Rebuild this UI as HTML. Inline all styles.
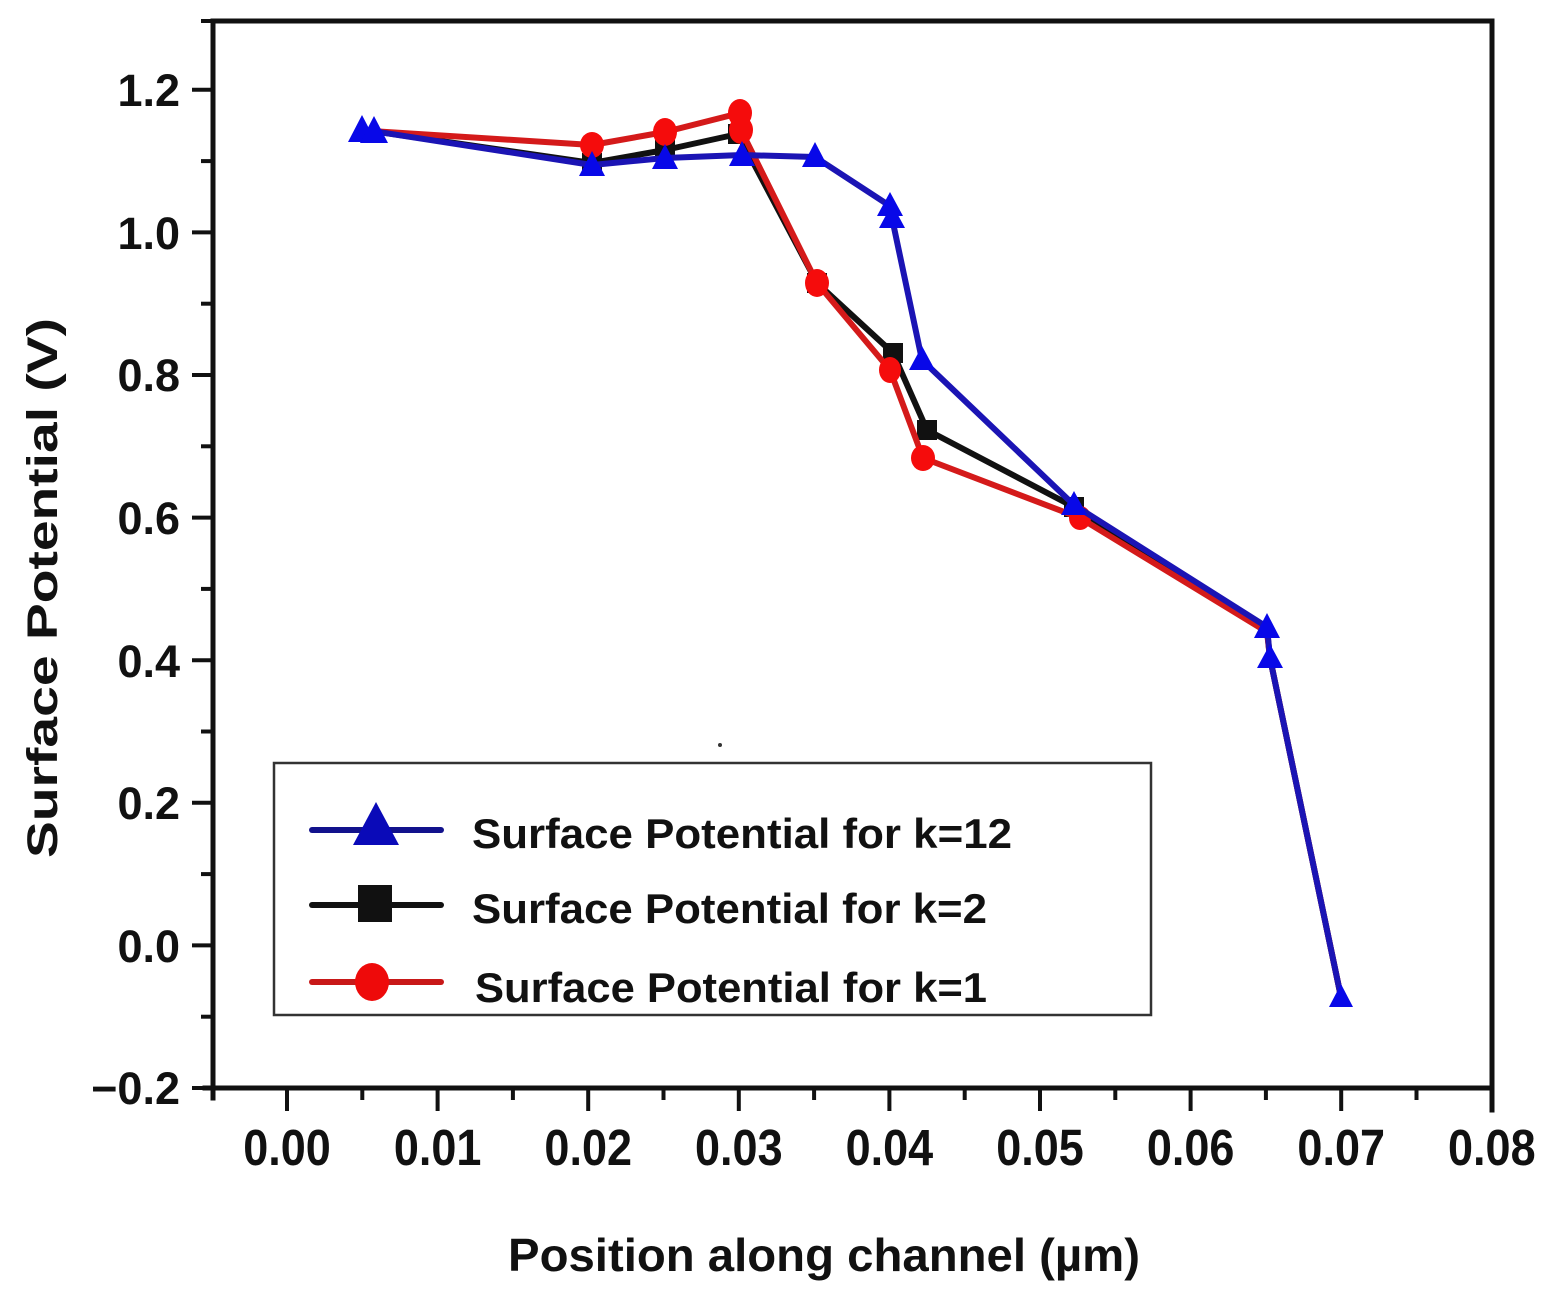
<!DOCTYPE html>
<html>
<head>
<meta charset="utf-8">
<style>
  html, body { margin:0; padding:0; background:#fff; }
  svg { display:block; }
  text { font-family: "Liberation Sans", Arial, sans-serif; font-weight: bold; fill:#111; }
</style>
</head>
<body>
<svg width="1548" height="1299" viewBox="0 0 1548 1299" xmlns="http://www.w3.org/2000/svg">
  <rect x="0" y="0" width="1548" height="1299" fill="#fff"/>

  <!-- Frame -->
  <g stroke="#111" stroke-width="5" fill="none" stroke-linecap="square">
    <line x1="213" y1="21" x2="1492" y2="21"/>
    <line x1="213" y1="21" x2="213" y2="1098"/>
    <line x1="205" y1="1088" x2="1492" y2="1088"/>
    <line x1="1492" y1="21" x2="1492" y2="1110"/>
  </g>

  <!-- Y ticks -->
  <g stroke="#111" stroke-width="4">
    <line x1="192" y1="89.8" x2="213" y2="89.8"/>
    <line x1="192" y1="232.4" x2="213" y2="232.4"/>
    <line x1="192" y1="375" x2="213" y2="375"/>
    <line x1="192" y1="517.6" x2="213" y2="517.6"/>
    <line x1="192" y1="660.2" x2="213" y2="660.2"/>
    <line x1="192" y1="802.8" x2="213" y2="802.8"/>
    <line x1="192" y1="945.4" x2="213" y2="945.4"/>
    <line x1="192" y1="1088" x2="213" y2="1088"/>
    <line x1="201" y1="21" x2="213" y2="21"/>
    <line x1="201" y1="161.1" x2="213" y2="161.1"/>
    <line x1="201" y1="303.7" x2="213" y2="303.7"/>
    <line x1="201" y1="446.3" x2="213" y2="446.3"/>
    <line x1="201" y1="588.9" x2="213" y2="588.9"/>
    <line x1="201" y1="731.5" x2="213" y2="731.5"/>
    <line x1="201" y1="874.1" x2="213" y2="874.1"/>
    <line x1="201" y1="1016.7" x2="213" y2="1016.7"/>
  </g>

  <!-- X ticks -->
  <g stroke="#111" stroke-width="4">
    <line x1="287" y1="1088" x2="287" y2="1111"/>
    <line x1="437.6" y1="1088" x2="437.6" y2="1111"/>
    <line x1="588.2" y1="1088" x2="588.2" y2="1111"/>
    <line x1="738.8" y1="1088" x2="738.8" y2="1111"/>
    <line x1="889.4" y1="1088" x2="889.4" y2="1111"/>
    <line x1="1040" y1="1088" x2="1040" y2="1111"/>
    <line x1="1190.6" y1="1088" x2="1190.6" y2="1111"/>
    <line x1="1341.2" y1="1088" x2="1341.2" y2="1111"/>
    <line x1="1491.8" y1="1088" x2="1491.8" y2="1111"/>
    <line x1="213" y1="1088" x2="213" y2="1100"/>
    <line x1="362.3" y1="1088" x2="362.3" y2="1100"/>
    <line x1="512.9" y1="1088" x2="512.9" y2="1100"/>
    <line x1="663.5" y1="1088" x2="663.5" y2="1100"/>
    <line x1="814.1" y1="1088" x2="814.1" y2="1100"/>
    <line x1="964.7" y1="1088" x2="964.7" y2="1100"/>
    <line x1="1115.3" y1="1088" x2="1115.3" y2="1100"/>
    <line x1="1265.9" y1="1088" x2="1265.9" y2="1100"/>
    <line x1="1416.5" y1="1088" x2="1416.5" y2="1100"/>
  </g>

  <!-- Y tick labels -->
  <g font-size="45" text-anchor="end">
    <text x="180" y="106">1.2</text>
    <text x="180" y="249">1.0</text>
    <text x="180" y="391">0.8</text>
    <text x="180" y="534">0.6</text>
    <text x="180" y="677">0.4</text>
    <text x="180" y="819">0.2</text>
    <text x="180" y="962">0.0</text>
    <text x="180" y="1104">−0.2</text>
  </g>

  <!-- X tick labels -->
  <g font-size="45" text-anchor="middle">
    <text transform="translate(287,1165) scale(1,1.13)">0.00</text>
    <text transform="translate(437.6,1165) scale(1,1.13)">0.01</text>
    <text transform="translate(588.2,1165) scale(1,1.13)">0.02</text>
    <text transform="translate(738.8,1165) scale(1,1.13)">0.03</text>
    <text transform="translate(889.4,1165) scale(1,1.13)">0.04</text>
    <text transform="translate(1040,1165) scale(1,1.13)">0.05</text>
    <text transform="translate(1190.6,1165) scale(1,1.13)">0.06</text>
    <text transform="translate(1341.2,1165) scale(1,1.13)">0.07</text>
    <text transform="translate(1491.8,1165) scale(1,1.13)">0.08</text>
  </g>

  <!-- Axis titles -->
  <text x="508" y="1271" font-size="46" textLength="632" lengthAdjust="spacingAndGlyphs">Position along channel (µm)</text>
  <text transform="translate(57,858) rotate(-90)" font-size="43" textLength="540" lengthAdjust="spacingAndGlyphs">Surface Potential (V)</text>

  <!-- stray dot -->
  <circle cx="720" cy="745" r="2" fill="#333"/>

  <!-- Black series (k=2) -->
  <polyline fill="none" stroke="#111" stroke-width="6" stroke-linejoin="round"
    points="362,130 372,131 592,163 665,150 738,134 817,283 893,353 927,430 1074,507 1267,630 1270,658 1341,997"/>
  <g fill="#111">
    <rect x="582" y="153" width="20" height="20"/>
    <rect x="655" y="140" width="20" height="20"/>
    <rect x="728" y="124" width="20" height="20"/>
    <rect x="807" y="273" width="20" height="20"/>
    <rect x="883" y="343" width="20" height="20"/>
    <rect x="917" y="420" width="20" height="20"/>
    <rect x="1064" y="497" width="20" height="20"/>
  </g>

  <!-- Red series (k=1) -->
  <polyline fill="none" stroke="#d41a1a" stroke-width="6" stroke-linejoin="round"
    points="362,130 372,131 592,145 665,132 740,113 741,130 817,283 890,370 923,458 1080,518 1267,632 1270,658 1341,997"/>
  <g fill="#f50c0c">
    <ellipse cx="592" cy="145" rx="12" ry="13"/>
    <ellipse cx="665" cy="132" rx="12" ry="14"/>
    <ellipse cx="740" cy="113" rx="12" ry="14"/>
    <ellipse cx="741" cy="130" rx="12" ry="14"/>
    <ellipse cx="817" cy="283" rx="12" ry="14"/>
    <ellipse cx="890" cy="370" rx="11" ry="13"/>
    <ellipse cx="923" cy="458" rx="12" ry="13"/>
    <ellipse cx="1080" cy="518" rx="11" ry="12"/>
  </g>

  <!-- Blue series (k=12) -->
  <polyline fill="none" stroke="#1b14b4" stroke-width="6" stroke-linejoin="round"
    points="362,130 372,131 592,165 665,158 742,155 815,157 890,206 892,218 922,360 1074,505 1267,627 1270,658 1341,997"/>
  <g fill="#0808e8">
    <polygon points="362,115 348,142 376,142"/>
    <polygon points="374,116 360,143 388,143"/>
    <polygon points="592,151 579,176 605,176"/>
    <polygon points="665,144 652,169 678,169"/>
    <polygon points="742,141 729,166 755,166"/>
    <polygon points="815,142 802,167 828,167"/>
    <polygon points="890,192 877,216 903,216"/>
    <polygon points="892,204 879,228 905,228"/>
    <polygon points="922,346 909,370 935,370"/>
    <polygon points="1074,491 1061,515 1087,515"/>
    <polygon points="1267,613 1254,638 1280,638"/>
    <polygon points="1270,644 1257,668 1283,668"/>
    <polygon points="1341,984 1329,1007 1353,1007"/>
  </g>

  <!-- Legend -->
  <rect x="274" y="763" width="877" height="252" fill="#fff" stroke="#333" stroke-width="2.5"/>
  <line x1="312" y1="830" x2="441" y2="830" stroke="#12128c" stroke-width="6" stroke-linecap="round"/>
  <polygon points="376,802 353,845 399,845" fill="#0a0ab8"/>
  <text x="472" y="848" font-size="42" textLength="540" lengthAdjust="spacingAndGlyphs">Surface Potential for k=12</text>
  <line x1="312" y1="905" x2="441" y2="905" stroke="#111" stroke-width="6" stroke-linecap="round"/>
  <rect x="358" y="885" width="34" height="37" fill="#111"/>
  <text x="472" y="923" font-size="42" textLength="515" lengthAdjust="spacingAndGlyphs">Surface Potential for k=2</text>
  <line x1="312" y1="982" x2="441" y2="982" stroke="#c81818" stroke-width="6" stroke-linecap="round"/>
  <ellipse cx="372" cy="982" rx="17" ry="19" fill="#ee0a0a"/>
  <text x="475" y="1002" font-size="42" textLength="512" lengthAdjust="spacingAndGlyphs">Surface Potential for k=1</text>
</svg>
</body>
</html>
